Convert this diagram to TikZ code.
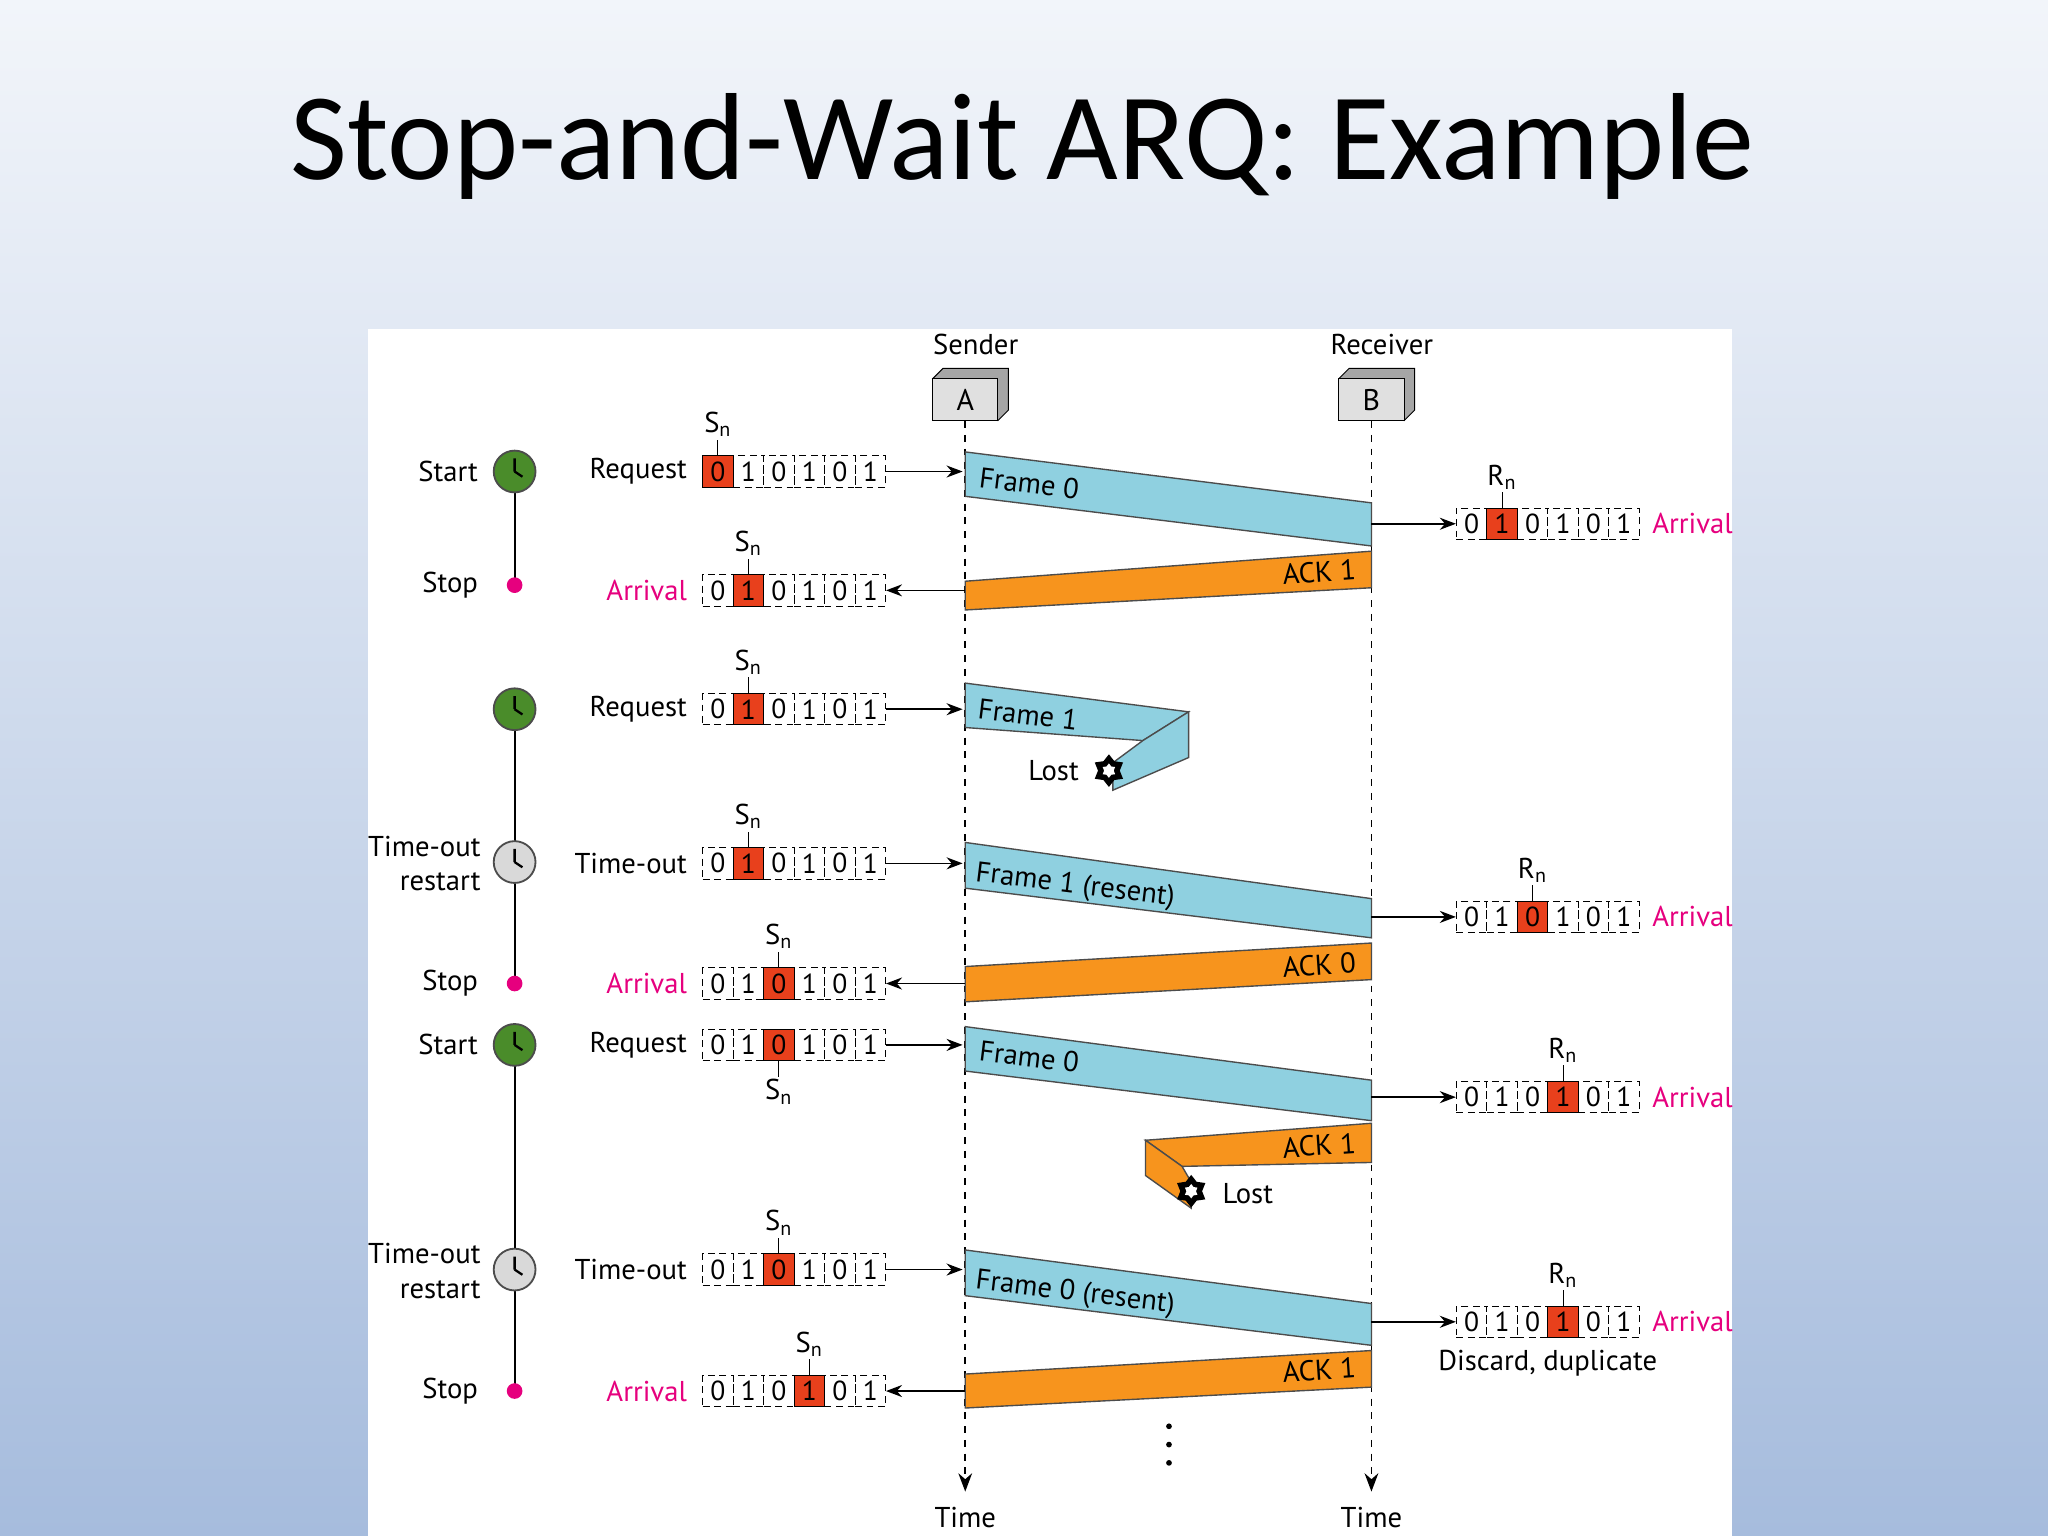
\documentclass[tikz,border=0pt]{standalone}
\usepackage{fontspec}
\setmainfont{Carlito}
\newfontfamily\diag{PT Sans}
\usetikzlibrary{shapes.geometric,arrows.meta}
\definecolor{cellred}{HTML}{E8401C}
\definecolor{fblue}{HTML}{8FD0E0}
\definecolor{forange}{HTML}{F7941D}
\definecolor{magent}{HTML}{E6007E}
\definecolor{cgreen}{HTML}{4A8C2A}
\tikzset{
 cell/.style={draw,densely dashed,minimum width=0.467cm,minimum height=0.48cm,inner sep=0pt,font=\diag\fontsize{12}{14}\selectfont},
 cellhl/.style={cell,solid,fill=cellred},
 lbl/.style={font=\diag\fontsize{12.5}{15}\selectfont,inner sep=1pt},
 mag/.style={lbl,text=magent},
 frm/.style={draw=black!70,fill=fblue,line width=0.6pt},
 ack/.style={draw=black!70,fill=forange,line width=0.6pt},
 arr/.style={-{Stealth[length=7pt]},line width=0.7pt},
 tl/.style={dashed,line width=0.7pt,-{Stealth[length=8pt]}},
 clk/.style={circle,draw=black!70,line width=0.8pt,minimum size=0.64cm,inner sep=0pt},
 sbox/.style={draw,fill=black!12,minimum width=1.0cm,minimum height=0.64cm,font=\diag\fontsize{13}{15}\selectfont}
}
\newcommand\seqrow[4]{%
 \foreach \v [count=\k from 0] in {0,1,0,1,0,1}{%
  \ifnum\k=#4\relax
   \node[cellhl] (#1-\k) at ({#2+11.67+23.33*\k},#3) {\v};
  \else
   \node[cell] (#1-\k) at ({#2+11.67+23.33*\k},#3) {\v};
  \fi}}
\newcommand\subup[3]{\draw (#1.north) -- ++(0,-12) coordinate (#1-t); \node[lbl,anchor=south] at (#1-t) {#2\textsubscript{n}};}
\newcommand\clock[3]{\node[clk,fill=#3] (#1) at (#2) {};
 \draw[line width=1pt] (#1.center) -- ++(0,-10) (#1.center) -- ++(6,4);}
\begin{document}
\begin{tikzpicture}[x=0.02cm,y=-0.02cm]
\shade[top color={rgb,255:red,242;green,245;blue,250},bottom color={rgb,255:red,166;green,188;blue,221}] (0,0) rectangle (1568,1176);
\useasboundingbox (0,0) rectangle (1568,1176);
\node[font=\fontsize{54}{58}\selectfont] (title) at (783,112) {Stop-and-Wait ARQ: Example};
\fill[white] (282,252) rectangle (1326,1176);
% stations
\foreach \n/\x/\t/\w in {A/739/A/Sender,B/1050/B/Receiver}{
 \fill[black!35,draw=black] (\x-25,290) -- (\x-17,282) -- (\x+33,282) -- (\x+33,314) -- (\x+25,322) -- cycle;
 \node[sbox] (\n) at (\x,306) {\t};
 \node[lbl] (\n lab) at (\x+8,264) {\w};
 \coordinate (\n end) at (\x,1142);
 \draw[tl] (\n.south) -- (\n end);
 \node[lbl] at (\x,1162) {Time};}
% frames
\draw[frm] (739,346) -- (1050,385) -- (1050,418) -- (739,380) -- cycle;
\node[lbl,rotate=-7] at (788,370) {Frame 0};
\draw[ack] (739,445) -- (1050,422) -- (1050,450) -- (739,467) -- cycle;
\node[lbl,rotate=4] at (1010,438) {ACK 1};
\draw[frm] (739,523) -- (910,545) -- (875,567) -- (739,557) -- cycle;
\draw[frm] (910,545) -- (910,580) -- (852,605) -- (852,584) -- (875,567) -- cycle;
\node[lbl,rotate=-7] at (787,547) {Frame 1};
\node[star,star points=6,fill=black,minimum size=0.5cm,inner sep=0pt] (lost1) at (849,590) {};
\node[star,star points=6,fill=white,minimum size=0.22cm,inner sep=0pt] at (849,590) {};
\node[lbl,anchor=east] at (828,590) {Lost};
\draw[frm] (739,645) -- (1050,688) -- (1050,718) -- (739,680) -- cycle;
\node[lbl,rotate=-7,anchor=west] at (745,669) {Frame 1 (resent)};
\draw[ack] (739,740) -- (1050,722) -- (1050,750) -- (739,767) -- cycle;
\node[lbl,rotate=4] at (1010,739) {ACK 0};
\draw[frm] (739,786) -- (1050,827) -- (1050,858) -- (739,820) -- cycle;
\node[lbl,rotate=-7] at (788,809) {Frame 0};
\draw[ack] (1050,860) -- (877,873) -- (905,893) -- (1050,890) -- cycle;
\draw[ack] (877,873) -- (877,900) -- (912,925) -- (912,905) -- (905,893) -- cycle;
\node[lbl,rotate=4] at (1010,877) {ACK 1};
\node[star,star points=6,fill=black,minimum size=0.5cm,inner sep=0pt] (lost2) at (912,912) {};
\node[star,star points=6,fill=white,minimum size=0.22cm,inner sep=0pt] at (912,912) {};
\node[lbl,anchor=west] at (934,914) {Lost};
\draw[frm] (739,957) -- (1050,998) -- (1050,1030) -- (739,992) -- cycle;
\node[lbl,rotate=-7,anchor=west] at (745,981) {Frame 0 (resent)};
\draw[ack] (739,1052) -- (1050,1034) -- (1050,1062) -- (739,1078) -- cycle;
\node[lbl,rotate=4] at (1010,1049) {ACK 1};
\foreach \y in {1092,1106,1120} \fill (895,\y) circle (2.2);
% sender rows
\seqrow{r1}{538}{361}{0} \subup{r1-0}{S}{}
\node[lbl,anchor=east] at (528,361) {Request};
\draw[arr] (r1-5.east) -- (737,361);
\seqrow{r2}{538}{452}{1} \subup{r2-1}{S}{}
\node[mag,anchor=east] at (528,452) {Arrival};
\draw[arr] (739,452) -- (r2-5.east);
\seqrow{r3}{538}{543}{1} \subup{r3-1}{S}{}
\node[lbl,anchor=east] at (528,543) {Request};
\draw[arr] (r3-5.east) -- (737,543);
\seqrow{r4}{538}{661}{1} \subup{r4-1}{S}{}
\node[lbl,anchor=east] at (528,661) {Time-out};
\draw[arr] (r4-5.east) -- (737,661);
\seqrow{r5}{538}{753}{2} \subup{r5-2}{S}{}
\node[mag,anchor=east] at (528,753) {Arrival};
\draw[arr] (739,753) -- (r5-5.east);
\seqrow{r6}{538}{800}{2}
\draw (r6-2.south) -- ++(0,12) node[lbl,anchor=north] {S\textsubscript{n}};
\node[lbl,anchor=east] at (528,800) {Request};
\draw[arr] (r6-5.east) -- (737,800);
\seqrow{r7}{538}{972}{2} \subup{r7-2}{S}{}
\node[lbl,anchor=east] at (528,972) {Time-out};
\draw[arr] (r7-5.east) -- (737,972);
\seqrow{r8}{538}{1065}{3} \subup{r8-3}{S}{}
\node[mag,anchor=east] at (528,1065) {Arrival};
\draw[arr] (739,1065) -- (r8-5.east);
% receiver rows
\foreach \nm/\y/\h in {q1/401/1,q2/702/2,q3/840/3,q4/1012/3}{
 \seqrow{\nm}{1115}{\y}{\h} \subup{\nm-\h}{R}{}
 \node[mag,anchor=west] at (1263,\y) {Arrival};
 \draw[arr] (1050,\y) -- (\nm-0.west);}
\node[lbl] at (1185,1044) {Discard, duplicate};
% timers
\draw[line width=0.8pt] (394,361) -- (394,448);
\draw[line width=0.8pt] (394,543) -- (394,753);
\draw[line width=0.8pt] (394,800) -- (394,1065);
\clock{c1}{394,361}{cgreen}
\clock{c2}{394,543}{cgreen}
\clock{c3}{394,660}{black!15}
\clock{c4}{394,800}{cgreen}
\clock{c5}{394,972}{black!15}
\foreach \y [count=\i] in {448,753,1065}{\fill[magent] (394,\y) circle (6); \node[lbl,anchor=east] (stop\i) at (368,\y) {Stop};}
\node[lbl,anchor=east] at (368,361) {Start};
\node[lbl,anchor=east] at (368,800) {Start};
\node[lbl,anchor=east,align=right] at (370,661) {Time-out\\restart};
\node[lbl,anchor=east,align=right] at (370,973) {Time-out\\restart};
\end{tikzpicture}
\end{document}
